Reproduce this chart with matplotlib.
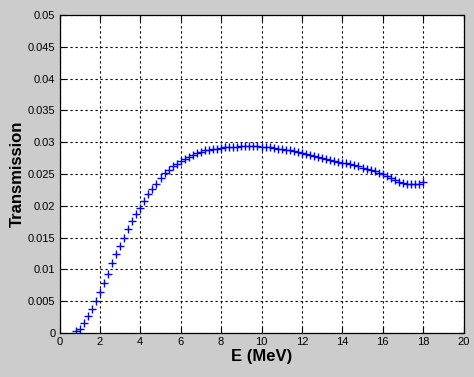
import numpy as np
import matplotlib
matplotlib.use("Agg")
import matplotlib.pyplot as plt

# energy grid (MeV) and transmission
energy = np.round(np.arange(0.8, 18.01, 0.2), 1)
transmission = [
    0.0003, 0.0007, 0.0015, 0.0027, 0.0037, 0.0050, 0.0064, 0.0078, 0.0093, 0.0110,
    0.0124, 0.0137, 0.0150, 0.0164, 0.0176, 0.0187, 0.0197, 0.0207, 0.0219, 0.0227,
    0.0235, 0.0243, 0.0251, 0.0256, 0.0262, 0.0266, 0.0270, 0.0274, 0.0277, 0.0280,
    0.0283, 0.0285, 0.0287, 0.0288, 0.0289, 0.0290, 0.0291, 0.0292, 0.0292, 0.0293,
    0.0293, 0.0294, 0.0294, 0.0294, 0.0294, 0.0294, 0.0293, 0.0293, 0.0292, 0.0291,
    0.0290, 0.0289, 0.0288, 0.0287, 0.0286, 0.0285, 0.0283, 0.0282, 0.0280, 0.0279,
    0.0277, 0.0275, 0.0274, 0.0272, 0.0271, 0.0269, 0.0268, 0.0267, 0.0265, 0.0264,
    0.0262, 0.0260, 0.0258, 0.0256, 0.0254, 0.0252, 0.0250, 0.0247, 0.0244, 0.0241,
    0.0238, 0.0236, 0.0235, 0.0234, 0.0234, 0.0235, 0.0237,
]

xticks = np.arange(0, 21, 2)
yticks = np.arange(0, 0.0501, 0.005)
ytick_labels = ["0", "0.005", "0.01", "0.015", "0.02", "0.025",
                "0.03", "0.035", "0.04", "0.045", "0.05"]

plt.rcParams["font.family"] = ["Liberation Sans", "DejaVu Sans"]

fig = plt.figure(figsize=(4.74, 3.77), dpi=100, facecolor="#cccccc")
ax = fig.add_axes([59.5 / 474, 44 / 377, 404 / 474, 318 / 377])
ax.set_facecolor("white")

ax.plot(energy, transmission, linestyle="none", marker="+",
        color="#0000ff", markersize=6, markeredgewidth=1.0)

ax.set_xlim(0, 20)
ax.set_ylim(0, 0.05)
ax.set_xticks(xticks)
ax.set_xticklabels([str(v) for v in xticks])
ax.set_yticks(yticks)
ax.set_yticklabels(ytick_labels)
ax.tick_params(direction="in", length=4, width=0.8, labelsize=8,
               top=True, right=True, pad=3)

ax.grid(True, color="black", linestyle=(0, (2, 2.5)), linewidth=0.8)
for s in ax.spines.values():
    s.set_linewidth(0.9)

ax.set_xlabel("E (MeV)", fontsize=12, fontweight="bold", labelpad=1)
ax.set_ylabel("Transmission", fontsize=12, fontweight="bold", labelpad=2)

fig.savefig("out.png", dpi=100, facecolor=fig.get_facecolor())
